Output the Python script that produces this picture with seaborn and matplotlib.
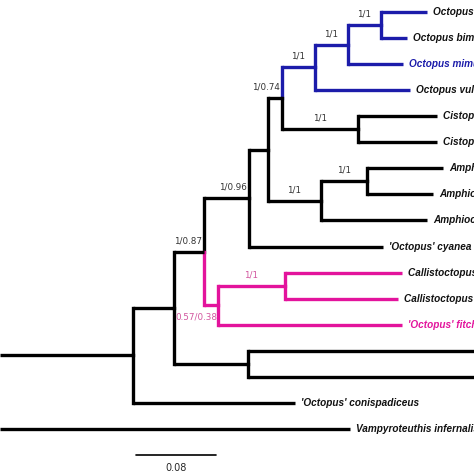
import matplotlib
matplotlib.use("Agg")
import matplotlib.pyplot as plt
import seaborn as sns

sns.set_theme(style="white")

# leaf names (top to bottom) and tip depths (substitutions/site)
leaves = ["Octopus oliveri", "Octopus bimaculoides", "Octopus mimus", "Octopus vulgaris",
          "Cistopus indicus", "Cistopus taiwanicus", "Amphioctopus marginatus",
          "Amphioctopus fangsiao", "Amphioctopus-aegina", "'Octopus' cyanea",
          "Callistoctopus minor", "Callistoctopus luteus", "'Octopus' fitchi",
          "", "", "'Octopus' conispadiceus", "Vampyroteuthis infernalis"]
leaf_depth = [0.427, 0.407, 0.403, 0.410, 0.437, 0.437, 0.443, 0.433, 0.427,
              0.383, 0.402, 0.398, 0.402, 0.480, 0.480, 0.295, 0.350]

# internal nodes: name -> (depth, children)
nodes = {
    "n_ob": (0.381, [0, 1]),
    "n_obm": (0.348, ["n_ob", 2]),
    "n_blue": (0.315, ["n_obm", 3]),
    "n_cis": (0.358, [4, 5]),
    "n_074": (0.282, ["n_blue", "n_cis"]),
    "n_amp2": (0.367, [6, 7]),
    "n_amp": (0.321, ["n_amp2", 8]),
    "n_a": (0.268, ["n_074", "n_amp"]),
    "n_096": (0.249, ["n_a", 9]),
    "n_cal": (0.285, [10, 11]),
    "n_pink": (0.218, ["n_cal", 12]),
    "n_087": (0.204, ["n_096", "n_pink"]),
    "n_un": (0.248, [13, 14]),
    "n_b": (0.174, ["n_087", "n_un"]),
    "n_c": (0.133, ["n_b", 15]),
    "root": (0.0, ["n_c", 16]),
}
support = {"n_ob": "1/1", "n_obm": "1/1", "n_blue": "1/1", "n_cis": "1/1",
           "n_074": "1/0.74", "n_amp2": "1/1", "n_amp": "1/1", "n_096": "1/0.96",
           "n_cal": "1/1", "n_pink": "0.57/0.38", "n_087": "1/0.87"}

BLUE, PINK, PINK_TXT = "#1c1caa", "#e3139c", "#d2569f"
blue_set = {"n_ob", "n_obm", "n_blue", 0, 1, 2, 3}
pink_set = {"n_cal", "n_pink", 10, 11, 12}
label_color = {2: BLUE, 12: PINK}

fig = plt.figure(figsize=(4.74, 4.74), dpi=100)
ax = fig.add_axes([0, 0, 1, 1])


def ypos(n):
    if isinstance(n, int):
        return n
    return sum(ypos(c) for c in nodes[n][1]) / len(nodes[n][1])


def xpos(n):
    return leaf_depth[n] if isinstance(n, int) else nodes[n][0]


def col(n):
    return BLUE if n in blue_set else PINK if n in pink_set else "black"


lw = 2.4
for name, (x, kids) in nodes.items():
    y0 = ypos(name)
    for k in kids:
        yk = ypos(k)
        if name in blue_set | pink_set:
            c = col(name)
        elif name == "n_087" and k == "n_pink":
            c = PINK
        elif name == "n_074" and k == "n_blue":
            c = BLUE
        else:
            c = "black"
        if name != "root":  # root vertical sits off the left edge
            ax.plot([x, x], [y0, yk], color=c, lw=lw, solid_capstyle="projecting")
        ax.plot([x, xpos(k)], [yk, yk], color=col(k), lw=lw, solid_capstyle="butt")

for i, nm in enumerate(leaves):
    ax.text(leaf_depth[i] + 0.006, i, nm, fontsize=7.2, style="italic", weight="bold",
            color=label_color.get(i, "#111111"), va="center", ha="left", family="Liberation Sans")

parent = {k: p for p, (_, ks) in nodes.items() for k in ks}
for n, s in support.items():
    c = PINK_TXT if n in pink_set else "#333333"
    p = parent[n]
    if n == "n_pink":
        ax.text(nodes[n][0] - 0.001, ypos(n) + 0.45, s, fontsize=6.3, color=c, ha="right", va="center")
    elif n in ("n_074", "n_096", "n_087"):
        ax.text(nodes[n][0] - 0.002, ypos(n) - 0.25, s, fontsize=6.3, color=c, ha="right", va="bottom")
    else:
        ax.text((xpos(p) + nodes[n][0]) / 2, ypos(n) - 0.25, s, fontsize=6.3, color=c, ha="center", va="bottom")

# scale bar
ax.plot([0.136, 0.216], [17.0, 17.0], color="black", lw=1.2)
ax.text(0.176, 17.3, "0.08", fontsize=7, ha="center", va="top", family="Liberation Sans Narrow")

ax.set_xlim(0, 0.474)
ax.set_ylim((474 - 12) / 26.06, -12 / 26.06)
ax.axis("off")
fig.savefig("out.png", dpi=100)
